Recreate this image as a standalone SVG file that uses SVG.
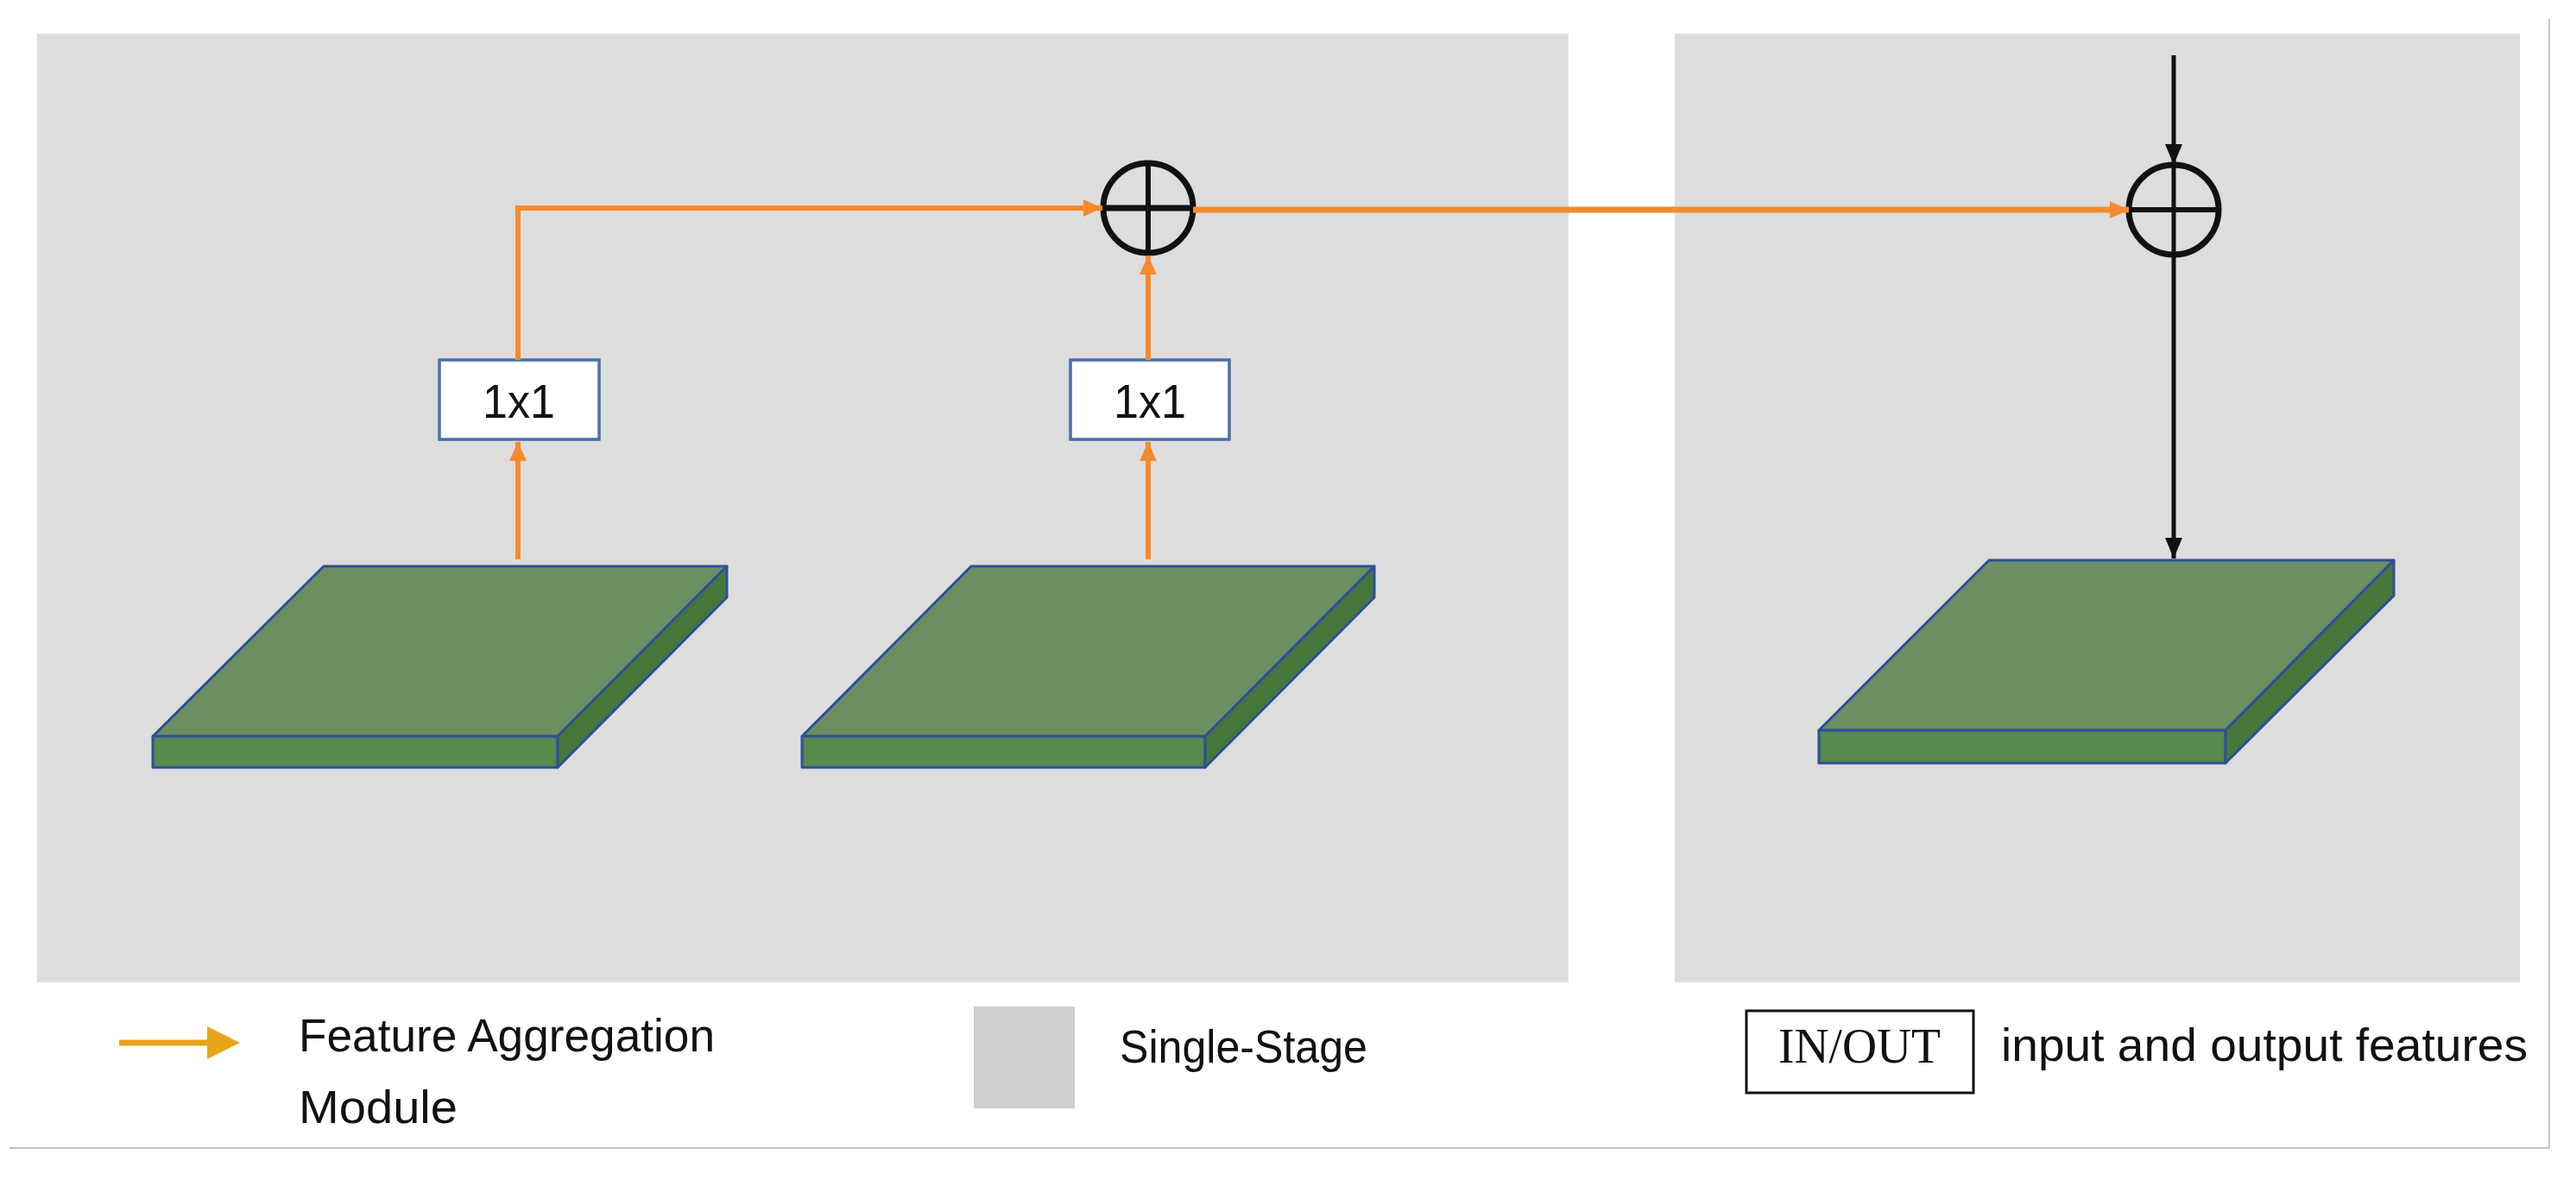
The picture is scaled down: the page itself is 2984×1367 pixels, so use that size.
<svg xmlns="http://www.w3.org/2000/svg" width="2984" height="1367" viewBox="0 0 2984 1367">
<style>
.panel{fill:#dddddd}
.top{fill:#6b8f61;stroke:#2d4f9a;stroke-width:3;stroke-linejoin:round}
.front{fill:#578a4b;stroke:#2d4f9a;stroke-width:3;stroke-linejoin:round}
.side{fill:#47773b;stroke:#2d4f9a;stroke-width:3;stroke-linejoin:round}
.conv{fill:#ffffff;stroke:#4a6fa8;stroke-width:3.5}
.lbl{font-family:"Liberation Sans",Arial,sans-serif;fill:#111111}
.orange{fill:none;stroke:#f68a2c}
.black{fill:none;stroke:#111111;stroke-width:5}
.sum{fill:none;stroke:#111111;stroke-width:7}
.frame{stroke:#c4c4c4;stroke-width:2;fill:none}
</style>
<defs>
<marker id="ao" markerUnits="userSpaceOnUse" markerWidth="24" markerHeight="22" refX="22" refY="10" orient="auto">
<polygon points="0,0 22,10 0,20" fill="#f68a2c"/>
</marker>
<marker id="ab" markerUnits="userSpaceOnUse" markerWidth="26" markerHeight="22" refX="24" refY="10" orient="auto">
<polygon points="0,0 24,10 0,20" fill="#111111"/>
</marker>
</defs>
<rect width="2984" height="1367" fill="#ffffff"/>
<g id="frame">
<line class="frame" x1="2953" y1="22" x2="2953" y2="1330"/>
<line class="frame" x1="11" y1="1330" x2="2953" y2="1330"/>
</g>
<g id="panel-left"><rect class="panel" x="43" y="39" width="1774" height="1099"/></g>
<g id="panel-right"><rect class="panel" x="1940" y="39" width="979" height="1099"/></g>

<g id="slab1">
<polygon class="top" points="375,656 842,656 646,853 177,853"/>
<polygon class="front" points="177,853 646,853 646,889 177,889"/>
<polygon class="side" points="842,656 842,692 646,889 646,853"/>
</g>
<g id="slab2">
<polygon class="top" points="1125,656 1592,656 1396,853 929,853"/>
<polygon class="front" points="929,853 1396,853 1396,889 929,889"/>
<polygon class="side" points="1592,656 1592,692 1396,889 1396,853"/>
</g>
<g id="slab3">
<polygon class="top" points="2304,649 2773,649 2578,846 2107,846"/>
<polygon class="front" points="2107,846 2578,846 2578,884 2107,884"/>
<polygon class="side" points="2773,649 2773,690 2578,884 2578,846"/>
</g>

<g id="conv1">
<rect class="conv" x="509" y="417" width="185" height="92"/>
<text class="lbl" x="601" y="484" font-size="56" text-anchor="middle" textLength="84" lengthAdjust="spacingAndGlyphs">1x1</text>
</g>
<g id="conv2">
<rect class="conv" x="1240" y="417" width="184" height="92"/>
<text class="lbl" x="1332" y="484" font-size="56" text-anchor="middle" textLength="84" lengthAdjust="spacingAndGlyphs">1x1</text>
</g>

<g id="sum1">
<circle class="sum" cx="1330" cy="241" r="52"/>
<line x1="1330" y1="189" x2="1330" y2="293" stroke="#111" stroke-width="6"/>
<line x1="1278" y1="241" x2="1382" y2="241" stroke="#111" stroke-width="7"/>
</g>
<g id="sum2">
<circle class="sum" cx="2518" cy="243" r="52"/>
<line x1="2518" y1="191" x2="2518" y2="295" stroke="#111" stroke-width="5"/>
<line x1="2466" y1="243" x2="2570" y2="243" stroke="#111" stroke-width="6"/>
</g>

<g id="connectors">
<line class="orange" stroke-width="6" x1="600" y1="648" x2="600" y2="512" marker-end="url(#ao)"/>
<line class="orange" stroke-width="6" x1="1330" y1="648" x2="1330" y2="512" marker-end="url(#ao)"/>
<path class="orange" stroke-width="6" d="M600 417 V241 H1277" marker-end="url(#ao)"/>
<line class="orange" stroke-width="6" x1="1330" y1="417" x2="1330" y2="296" marker-end="url(#ao)"/>
<line class="orange" stroke-width="7" x1="1382" y1="243" x2="2466" y2="243" marker-end="url(#ao)"/>
<line class="black" x1="2518" y1="64" x2="2518" y2="191" marker-end="url(#ab)"/>
<line class="black" x1="2518" y1="295" x2="2518" y2="647" marker-end="url(#ab)"/>
</g>

<g id="legend-fam">
<line x1="138" y1="1208" x2="242" y2="1208" stroke="#e9a41c" stroke-width="7"/>
<polygon points="240,1189 278,1208 240,1227" fill="#e9a41c"/>
<text class="lbl" x="346" y="1218" font-size="54" textLength="482" lengthAdjust="spacingAndGlyphs">Feature Aggregation</text>
<text class="lbl" x="346" y="1301" font-size="54" textLength="184" lengthAdjust="spacingAndGlyphs">Module</text>
</g>
<g id="legend-stage">
<rect x="1128" y="1166" width="117" height="118" fill="#cfcfcf"/>
<text class="lbl" x="1297" y="1231" font-size="54" textLength="287" lengthAdjust="spacingAndGlyphs">Single-Stage</text>
</g>
<g id="legend-io">
<rect x="2023" y="1171" width="263" height="95" fill="#ffffff" stroke="#111111" stroke-width="3"/>
<text x="2154" y="1231" font-family="'Liberation Serif','Times New Roman',serif" font-size="56" fill="#111111" text-anchor="middle" textLength="188" lengthAdjust="spacingAndGlyphs">IN/OUT</text>
<text class="lbl" x="2318" y="1229" font-size="54" textLength="610" lengthAdjust="spacingAndGlyphs">input and output features</text>
</g>
</svg>
